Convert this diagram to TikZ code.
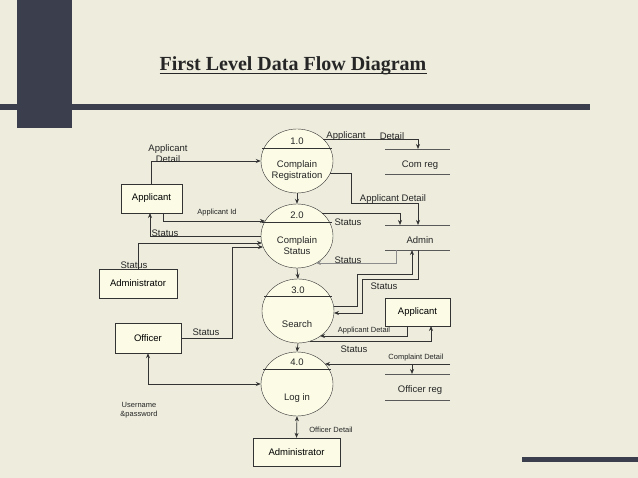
\documentclass[tikz,border=0pt]{standalone}
\usepackage{fontspec}
\setmainfont{Liberation Sans}
\newfontfamily\titlefont{Liberation Serif}
\usetikzlibrary{shapes.geometric,arrows.meta}
\definecolor{bg}{HTML}{EDECDD}
\definecolor{boxfill}{HTML}{FBFBE6}
\definecolor{bar}{HTML}{3B3E4C}
\definecolor{ln}{HTML}{333333}
\tikzset{
  proc/.style={ellipse,draw=ln,fill=boxfill,minimum width=72pt,minimum height=64pt,inner sep=0pt},
  ent/.style={rectangle,draw=ln,fill=boxfill,inner sep=0pt,font=\fontsize{9.5}{11}\selectfont},
  lbl/.style={font=\fontsize{9.5}{11}\selectfont,inner sep=0pt,text=black!85},
  slbl/.style={font=\fontsize{7.5}{9}\selectfont,inner sep=0pt,text=black!85},
  flow/.style={draw=ln,line width=0.7pt,-{Stealth[length=5pt,width=4pt]}},
  bflow/.style={draw=ln,line width=0.7pt,{Stealth[length=5pt,width=4pt]}-{Stealth[length=5pt,width=4pt]}},
  store/.style={draw=black!65,line width=0.8pt}
}
\begin{document}
\begin{tikzpicture}[x=1pt,y=-1pt]
\useasboundingbox (0,0) rectangle (638,478);
\fill[bg] (0,0) rectangle (638,478);
\fill[bar] (17,0) rectangle (72,128);
\fill[bar] (0,104) rectangle (590,110);
\fill[bar] (522,457) rectangle (638,462);
\node[anchor=base,font=\titlefont\bfseries\fontsize{20}{24}\selectfont,inner sep=0pt,text=black!85] (title) at (293,71) {First Level Data Flow Diagram};
\draw[line width=1pt,black!85] ([yshift=-3pt]title.base west) -- ([yshift=-3pt]title.base east);

% processes
\node[proc] (c1) at (297,161) {};
\node[proc] (c2) at (297,236) {};
\node[proc] (c3) at (298,311) {};
\node[proc] (c4) at (297,384) {};
\draw[ln,line width=0.7pt] (262,148) -- (332,148);
\draw[ln,line width=0.7pt] (262,222) -- (332,222);
\draw[ln,line width=0.7pt] (264,296) -- (332,296);
\draw[ln,line width=0.7pt] (263,369) -- (331,369);
\node[lbl] (n1) at (297,141) {1.0};
\node[lbl,align=center] (t1) at (297,171) {Complain\\Registration};
\node[lbl] (n2) at (297,215) {2.0};
\node[lbl,align=center] (t2) at (297,246) {Complain\\Status};
\node[lbl] (n3) at (298,290) {3.0};
\node[lbl] (t3) at (297,324) {Search};
\node[lbl] (n4) at (297,362) {4.0};
\node[lbl] (t4) at (297,398) {Log in};

% entities
\node[ent,minimum width=61pt,minimum height=29pt] (app) at (151.5,198.5) {Applicant};
\node[ent,minimum width=78pt,minimum height=29pt] (adm) at (138,283.5) {Administrator};
\node[ent,minimum width=66pt,minimum height=30pt] (off) at (148,338) {Officer};
\node[ent,minimum width=65pt,minimum height=28pt] (app2) at (417.5,312) {Applicant};
\node[ent,minimum width=87pt,minimum height=28pt] (adm2) at (296.5,452) {Administrator};

% stores
\draw[store] (385,149) -- (450,149); \draw[store] (385,174) -- (450,174);
\node[lbl] (s1) at (420,165) {Com reg};
\draw[store] (385,225) -- (450,225); \draw[store] (385,250) -- (450,250);
\node[lbl] (s2) at (420,240) {Admin};
\draw[store] (385,374) -- (450,374); \draw[store] (385,400) -- (450,400);
\node[lbl] (s3) at (420,390) {Officer reg};
\coordinate (comregtop) at (418,149);
\coordinate (admintop) at (418,225);
\coordinate (admintop2) at (400,225);
\coordinate (offregtop) at (412,374);
\coordinate (app2in) at (431,326);

% flows
\draw[flow] (app.north) |- (c1.west);
\node[lbl,align=center] at (168,154) {Applicant\\ Detail};
\draw[flow] (323,139) -| (comregtop);
\node[lbl] at (346,136) {Applicant};
\node[lbl] at (392,136) {Detail};
\draw[flow] (330,173) -| (351,203) -| (admintop);
\node[lbl] at (393,199) {Applicant Detail};
\draw[flow] (c1.south) -- (c2.north);
\draw[flow] (163,213) |- (265,221);
\node[slbl] at (217,213) {Applicant Id};
\draw[flow] (322,213) -| (admintop2);
\node[lbl] at (348,222) {Status};
\draw[flow] (c2.west) -| (150,213);
\node[lbl] at (165,233) {Status};
\draw[flow] (adm.north) |- (262,243);
\node[lbl] at (134,265) {Status};
\draw[flow] (off.east) -| (232,247) -- (263,247);
\node[lbl] at (206,332) {Status};
\draw[flow,draw=black!45] (396,250) |- (316,263);
\node[lbl] at (348,260) {Status};
\draw[flow] (c2.south) -- (c3.north);
\draw[flow] (334,306) -| (357,274) -| (412,250);
\draw[flow] (418,250) |- (362,279) |- (334,313);
\node[lbl] at (384,286) {Status};
\draw[flow] (407,326) |- (320,336);
\node[slbl] at (364,331) {Applicant Detail};
\draw[flow] (310,341) -| (app2in);
\node[lbl] at (354,349) {Status};
\draw[flow] (c3.south) -- (c4.north);
\draw[flow] (450,364) -- (325,364);
\draw[flow] (412,364) -- (offregtop);
\node[slbl] at (416,358) {Complaint Detail};
\draw[bflow] (off.south) |- (c4.west);
\node[slbl,align=center] at (139,410) {Username\\\&password};
\draw[bflow] (c4.south) -- (adm2.north);
\node[slbl] at (331,430) {Officer Detail};
\end{tikzpicture}
\end{document}
